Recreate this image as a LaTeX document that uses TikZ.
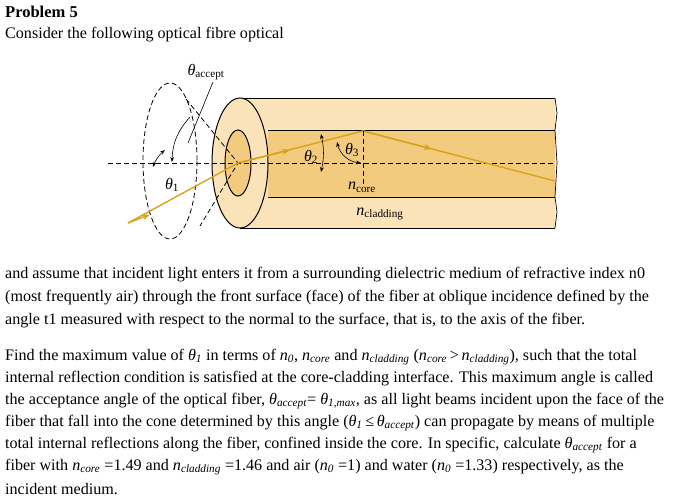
\documentclass[tikz,border=0pt]{standalone}
\usepackage{fontspec}
\setmainfont{Liberation Serif}
\usetikzlibrary{arrows.meta}
\definecolor{clad}{HTML}{FAE3B8}
\definecolor{core}{HTML}{F3CB7E}
\definecolor{ray}{HTML}{D9A21B}
\newcommand{\sbi}[1]{\textsubscript{\textit{#1}}}
\begin{document}
\begin{tikzpicture}[x=1pt,y=-1pt,
  txt/.style={anchor=west,inner sep=0pt,font=\fontsize{16.1}{18}\selectfont},
  lbl/.style={inner sep=0pt,font=\fontsize{16}{18}\selectfont},
  dsh/.style={dashed,dash pattern=on 5pt off 3pt,line width=0.8pt},
  rayl/.style={ray,line width=1.4pt},
  ang/.style={line width=0.6pt,-{Stealth[length=5pt]}}]
\useasboundingbox (0,0) rectangle (675,498);
% text
\node[txt,font=\fontsize{16.5}{18}\selectfont\bfseries] (t0) at (5,12) {Problem 5};
\node[txt] (t1) at (5,35) {Consider the following optical fibre optical};
\node[txt] (p1) at (5,275) {and assume that incident light enters it from a surrounding dielectric medium of refractive index n0};
\node[txt] (p2) at (5,298) {(most frequently air) through the front surface (face) of the fiber at oblique incidence defined by the};
\node[txt] (p3) at (5,321) {angle t1 measured with respect to the normal to the surface, that is, to the axis of the fiber.};
\node[txt] (q1) at (5,357) {Find the maximum value of \textit{θ}\sbi{1} in terms of \textit{n}\sbi{0}, \textit{n}\sbi{core} and \textit{n}\sbi{cladding} (\textit{n}\sbi{core}\,>\,\textit{n}\sbi{cladding}), such that the total};
\node[txt] (q2) at (5,379) {internal reflection condition is satisfied at the core-cladding interface. This maximum angle is called};
\node[txt] (q3) at (5,401) {the acceptance angle of the optical fiber, \textit{θ}\sbi{accept}= \textit{θ}\sbi{1,max}, as all light beams incident upon the face of the};
\node[txt] (q4) at (5,423) {fiber that fall into the cone determined by this angle (\textit{θ}\sbi{1}\,≤\,\textit{θ}\sbi{accept}) can propagate by means of multiple};
\node[txt] (q5) at (5,445) {total internal reflections along the fiber, confined inside the core. In specific, calculate \textit{θ}\sbi{accept} for a};
\node[txt] (q6) at (5,467) {fiber with \textit{n}\sbi{core} =1.49 and \textit{n}\sbi{cladding} =1.46 and air (\textit{n}\sbi{0} =1) and water (\textit{n}\sbi{0} =1.33) respectively, as the};
\node[txt] (q7) at (5,489) {incident medium.};
% fiber body
\fill[clad] (240,98) rectangle (555,228);
\fill[core] (268,130) rectangle (555,197);
\draw[line width=1pt] (240,98) -- (555,98) (240,228) -- (555,228);
\draw[line width=1pt] (268,130) -- (555,130) (268,197) -- (555,197);
\draw[line width=0.7pt] (555,98) -- (557,113) -- (555,130) (555,130) -- (557,163) -- (555,197) (555,197)--(557,212)--(555,228);
\fill[clad] (240,163) ellipse (28 and 65);
\draw[line width=1pt] (240,163) ellipse (28 and 65);
\fill[core] (238,163) ellipse (13 and 33);
\draw[line width=1pt] (238,163) ellipse (13 and 33);
% axis and cone
\coordinate (apex) at (238,163);
\draw[dsh] (108,163) -- (555,163);
\draw[dsh] (170,161) ellipse (27 and 78);
\draw[dsh] (186,99) -- (apex) -- (200,226);
% ray
\coordinate (r0) at (128,223);
\coordinate (r1) at (363,131);
\coordinate (r2) at (555,181);
\draw[rayl] (r0) -- (apex) -- (r1) -- (r2);
\draw[rayl,-{Stealth[length=8pt,width=6pt]}] (r0) -- (150,214.5);
\draw[rayl,-{Stealth[length=8pt,width=6pt]}] (apex) -- (290,150);
\draw[rayl,-{Stealth[length=8pt,width=6pt]}] (r1) -- (432,149);
% normal at reflection point
\draw[dsh] (363,131) -- (363,186);
% angles
\draw[ang,{Stealth[length=5pt]}-{Stealth[length=5pt]}] (153,167) arc[start angle=200,end angle=230,radius=40];
\draw[ang] (190,117) to[bend right=20] (172,162);
\draw[ang,{Stealth[length=5pt]}-{Stealth[length=5pt]}] (321,134) to[bend left=12] (321,172);
\draw[ang,{Stealth[length=5pt]}-{Stealth[length=5pt]}] (337,142) to[bend right=35] (361,163);
\draw[line width=0.6pt] (213,82) -- (188,143);
% labels
\node[lbl] (lacc) at (206,72) {\textit{θ}\textsubscript{accept}};
\node[lbl] (l1) at (172,185) {\textit{θ}\textsubscript{1}};
\node[lbl] (l2) at (311,157) {\textit{θ}\textsubscript{2}};
\node[lbl] (l3) at (352,150) {\textit{θ}\textsubscript{3}};
\node[lbl] (lc) at (362,187) {\textit{n}\textsubscript{core}};
\node[lbl] (ld) at (380,214) {\textit{n}\textsubscript{cladding}};
\end{tikzpicture}
\end{document}
